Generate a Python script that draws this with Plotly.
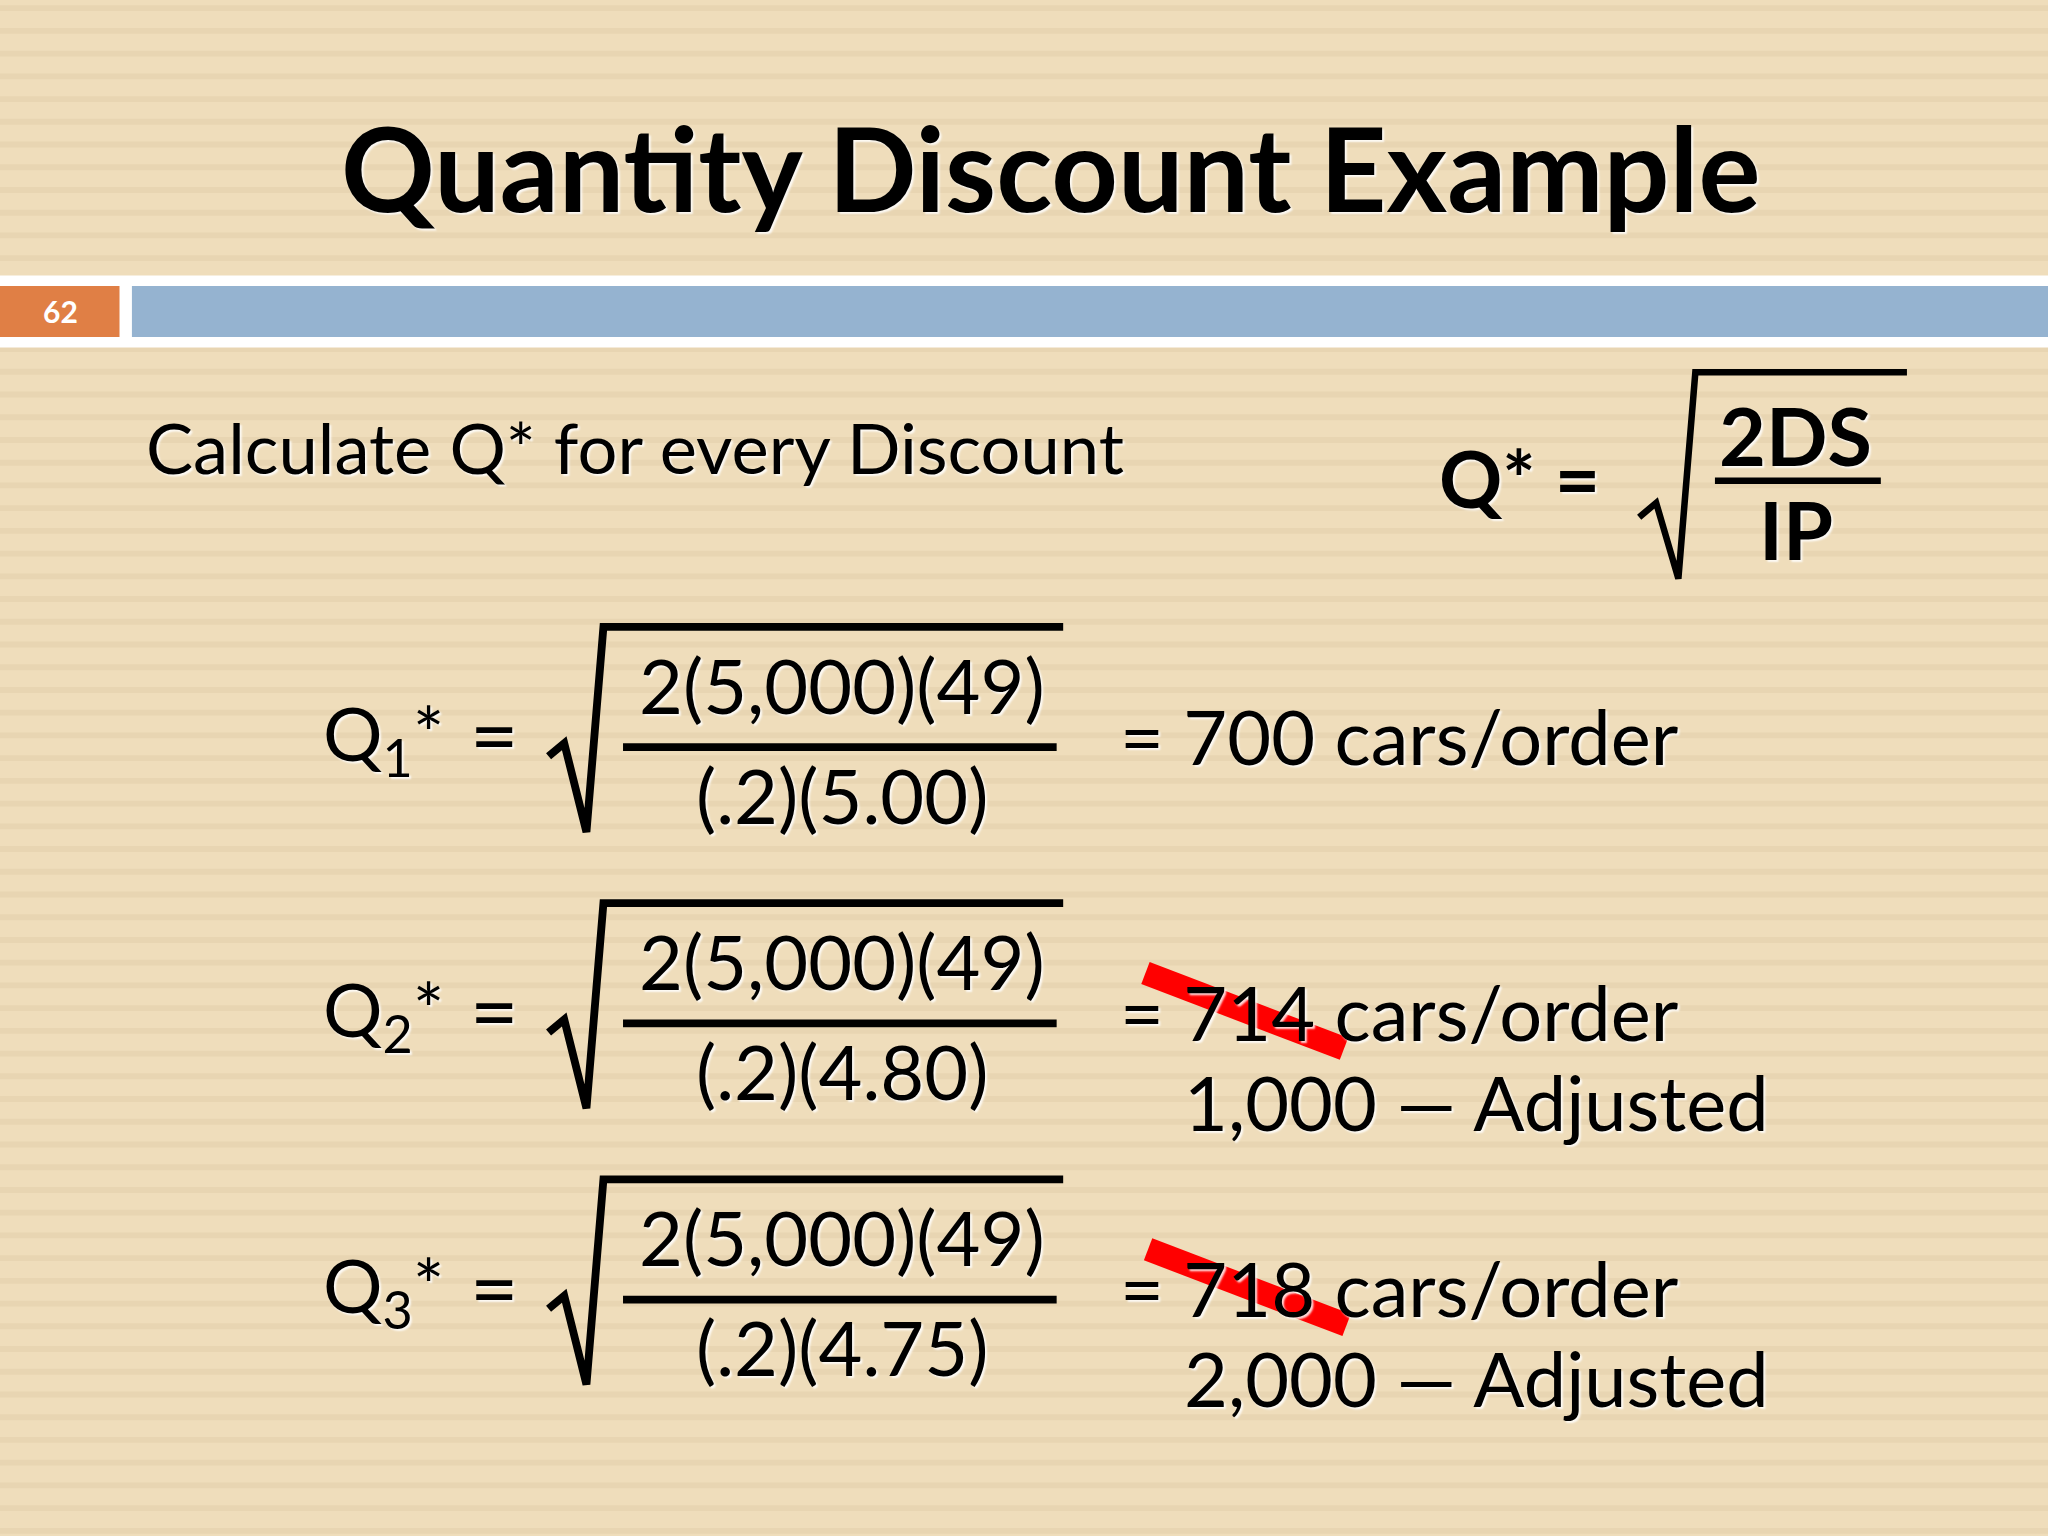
import plotly.graph_objects as go

# slide values
demand = 5000
order_cost = 49
holding_rate = 0.2
prices = [5.00, 4.80, 4.75]
eoq = [700, 714, 718]
adjusted = [None, 1000, 2000]
slide_no = "62"

W, H = 1568, 1176          # layout units (scaled to 2048x1536)
k = 2048 / W               # px per layout unit
FONT = "Lato, 'Open Sans', sans-serif"
INK = "black"
SHADOW = "2px 2px 2px rgba(255,255,255,0.85)"

fig = go.Figure()
shapes = []
ann = []

# striped beige background
y = 4.0
while y < H:
    shapes.append(dict(type="rect", x0=0, x1=W, y0=y, y1=y + 4.5,
                       fillcolor="#E8D5B2", line_width=0, layer="below"))
    y += 17.4

# header band
shapes.append(dict(type="rect", x0=0, x1=W, y0=211, y1=266,
                   fillcolor="white", line_width=0, layer="below"))
shapes.append(dict(type="rect", x0=0, x1=91.5, y0=219, y1=258,
                   fillcolor="#E07F45", line_width=0, layer="below"))
shapes.append(dict(type="rect", x0=101, x1=W, y0=219, y1=258,
                   fillcolor="#95B3D0", line_width=0, layer="below"))


def text(x, y, s, size, bold=False, color=INK, xanchor="center", shadow=True):
    ann.append(dict(x=x, y=y, xref="x", yref="y", text=s, showarrow=False,
                    xanchor=xanchor, yanchor="middle",
                    font=dict(family=FONT, size=size * k, color=color,
                              weight="bold" if bold else "normal",
                              shadow=SHADOW if shadow else "none")))


def radical(x0, ybase, ytop, xend, width):
    path = (f"M {x0},{ybase - 58} L {x0 + 12},{ybase - 68} L {x0 + 29},{ybase} "
            f"L {x0 + 42},{ytop} L {xend},{ytop}")
    shapes.append(dict(type="path", path=path,
                       line=dict(color=INK, width=width * k)))


text(805, 128, "Quantity Discount Example", 89, bold=True)
text(46, 238, slide_no, 23, bold=True, color="white", shadow=False)
text(110, 342, "Calculate Q* for every Discount", 54, xanchor="left")

# general formula, top right
text(1100, 366, "Q* =", 60, bold=True, xanchor="left")
shapes.append(dict(type="path",
                   path="M 1255,396 L 1268,385 L 1285,443 L 1298,285 L 1460,285",
                   line=dict(color=INK, width=5 * k)))
text(1375, 333, "2DS", 62, bold=True)
shapes.append(dict(type="line", x0=1313, x1=1440, y0=368, y1=368,
                   line=dict(color=INK, width=5 * k)))
text(1375, 405, "IP", 62, bold=True)

# one row per discount level
for i, (p, q, adj) in enumerate(zip(prices, eoq, adjusted)):
    dy = i * 211.5
    text(246, 565 + dy, f"Q<sub>{i + 1}</sub>*", 57, xanchor="left")
    text(378, 561 + dy, "=", 64)
    radical(420, 637 + dy, 480 + dy, 814, 6)
    text(645, 524 + dy, f"2({demand:,})({order_cost})", 58)
    shapes.append(dict(type="line", x0=477, x1=809, y0=572 + dy, y1=572 + dy,
                       line=dict(color=INK, width=6 * k)))
    text(645, 608 + dy, f"({str(holding_rate)[1:]})({p:.2f})", 58)
    text(856, 563 + dy, f"= {q} cars/order", 58, xanchor="left")
    if adj is not None:
        text(905, 843 + dy - 211.5, f"{adj:,} — Adjusted", 58, xanchor="left")
        shapes.append(dict(type="line", x0=877 + 2 * (i - 1), x1=1029 + 2 * (i - 1),
                           y0=745 + dy - 211.5, y1=803 + dy - 211.5,
                           line=dict(color="#FF0000", width=18 * k)))

fig.update_layout(
    width=2048, height=1536,
    margin=dict(l=0, r=0, t=0, b=0),
    paper_bgcolor="#EFDDBB",
    plot_bgcolor="#EFDDBB",
    xaxis=dict(range=[0, W], visible=False, fixedrange=True),
    yaxis=dict(range=[H, 0], visible=False, fixedrange=True),
    shapes=shapes,
    annotations=ann,
    showlegend=False,
)

fig.write_html("out.html", config={"displayModeBar": False},
               post_script="document.body.style.margin='0';")
